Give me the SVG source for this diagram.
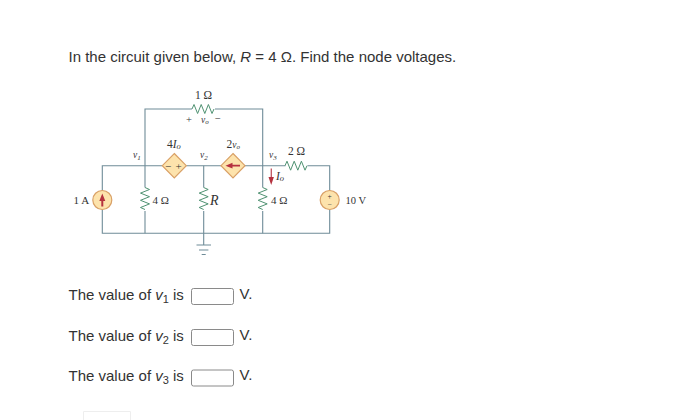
<svg xmlns="http://www.w3.org/2000/svg" width="700" height="420" viewBox="0 0 700 420">
<style>
.w{fill:none;stroke:#6f8c98;stroke-width:1.1}
.r{fill:none;stroke:#4f9272;stroke-width:1}
.s{fill:#fde3ac;stroke:#d9a066;stroke-width:1.2}
.a{fill:#b5323f;stroke:none}
.c{font-family:"Liberation Serif",serif;fill:#333}
.t{font-family:"Liberation Sans",Arial,sans-serif;font-size:15px;fill:#333}
.i{font-style:italic}
.b{fill:#fff;stroke:#8a8a8a;stroke-width:1}
</style>
<defs>
<path id="rh" class="r" d="M0,0 l2,-4.500 l3.600,9 l3.600,-9 l3.600,9 l3.600,-9 l3.600,9 l2,-4.500"/>
<path id="rv" class="r" d="M0,0 l4.500,2 l-9,3.600 l9,3.600 l-9,3.600 l9,3.600 l-9,3.600 l4.500,2"/>
</defs>
<rect width="700" height="420" fill="#fff"/>
<text id="question" class="t" x="68.500" y="61.500">In the circuit given below, <tspan class="i">R</tspan> = 4 Ω. Find the node voltages.</text>
<g id="connectors">
<path class="w" d="M102.300,190.500V165.700H162.300M186.300,165.700H221M245,165.700H285.500M307.500,165.700H329.700V190.500"/>
<path class="w" d="M145,187.500V109H192M215,109H262.700V187.500"/>
<path class="w" d="M203.700,165.700V187.500"/>
<path class="w" d="M102.300,209.500V233.300H329.700V209.500"/>
<path class="w" d="M145,211V233.300M203.700,211V245M262.700,211V233.300"/>
<path class="w" d="M196.500,245H211M199,250H208.400M201.700,254.500H205.700"/>
</g>
<g id="r1"><use href="#rh" x="192" y="109"/><text class="c" x="203.500" y="99" font-size="11.500" text-anchor="middle">1 Ω</text></g>
<g id="vo-label"><text class="c" x="189" y="122.500" font-size="10.500" text-anchor="middle">+</text><text class="c i" x="201" y="123" font-size="9.500">v<tspan font-size="7" dy="1">o</tspan></text><text class="c" x="218" y="122" font-size="10.500" text-anchor="middle">−</text></g>
<g id="cs1">
<path class="w" d="M102.300,190.500V209.500"/>
<circle class="s" cx="102.300" cy="200" r="9.500"/>
<path class="a" d="M102.300,193.500L105.300,201H103.300V206.500H101.300V201H99.300Z"/>
<text class="c" x="73.500" y="203.500" font-size="11">1 A</text>
</g>
<g id="r4a"><use href="#rv" x="145" y="187.500"/><text class="c" x="152.500" y="203.500" font-size="11">4 Ω</text></g>
<g id="rR"><use href="#rv" x="203.700" y="187.500"/><text class="c i" x="210" y="204.500" font-size="14">R</text></g>
<g id="r4b"><use href="#rv" x="262.700" y="187.500"/><text class="c" x="271" y="203.500" font-size="11">4 Ω</text></g>
<g id="ds1">
<path class="s" d="M174.300,153.500L186.300,165.700L174.300,177.900L162.300,165.700Z"/>
<text class="c" x="168" y="169.500" font-size="11" text-anchor="middle">−</text>
<text class="c" x="178.500" y="169.500" font-size="11" text-anchor="middle">+</text>
<text class="c" x="167" y="148" font-size="11.500">4<tspan class="i">I</tspan><tspan class="i" font-size="8.500" dy="1">o</tspan></text>
</g>
<g id="ds2">
<path class="s" d="M233,153.500L245,165.700L233,177.900L221,165.700Z"/>
<path class="a" d="M225.500,165.700L232.500,162.800V164.800H240V166.600H232.500V168.600Z"/>
<text class="c" x="226.500" y="148" font-size="11.500">2<tspan class="i" font-size="9.500">v</tspan><tspan class="i" font-size="7" dy="1">o</tspan></text>
</g>
<g id="n1"><text class="c i" x="133" y="158" font-size="9.500">v<tspan font-size="7" dy="1.500">1</tspan></text></g>
<g id="n2"><text class="c i" x="200" y="158" font-size="9.500">v<tspan font-size="7" dy="1.500">2</tspan></text></g>
<g id="n3"><text class="c i" x="269" y="158" font-size="9.500">v<tspan font-size="7" dy="1.500">3</tspan></text></g>
<g id="r2"><use href="#rh" x="285" y="165.700"/><text class="c" x="296.500" y="155" font-size="11.500" text-anchor="middle">2 Ω</text></g>
<g id="io"><path class="a" d="M270.700,168.500H271.800V177H273.900L271.200,185L268.500,177H270.700Z"/><text class="c i" x="276" y="180" font-size="11.500">I<tspan font-size="8.500" dy="1">o</tspan></text></g>
<g id="vs">
<path class="w" d="M329.700,190.500V209.500"/>
<circle class="s" cx="329.700" cy="200" r="9.500"/>
<text class="c" x="329.700" y="198.500" font-size="7.500" text-anchor="middle">+</text>
<text class="c" x="329.700" y="207" font-size="7.500" text-anchor="middle">−</text>
<text class="c" x="345.500" y="203.500" font-size="10.500">10 V</text>
</g>
<g id="q1"><text class="t" x="68.500" y="299.500">The value of <tspan class="i">v</tspan><tspan font-size="11" dy="3">1</tspan><tspan dy="-3"> is</tspan></text><rect class="b" x="191.500" y="288.500" width="42" height="16" rx="2"/><text class="t" x="239.500" y="299">V.</text></g>
<g id="q2"><text class="t" x="68.500" y="340.500">The value of <tspan class="i">v</tspan><tspan font-size="11" dy="3">2</tspan><tspan dy="-3"> is</tspan></text><rect class="b" x="191.500" y="329.500" width="42" height="16" rx="2"/><text class="t" x="239.500" y="340">V.</text></g>
<g id="q3"><text class="t" x="68.500" y="380.500">The value of <tspan class="i">v</tspan><tspan font-size="11" dy="3">3</tspan><tspan dy="-3"> is</tspan></text><rect class="b" x="191.500" y="370" width="42" height="16" rx="2"/><text class="t" x="239.500" y="380">V.</text></g>
<path d="M83.500,420V411.500H130.500V420" fill="none" stroke="#eeeeee" stroke-width="1"/>
</svg>
